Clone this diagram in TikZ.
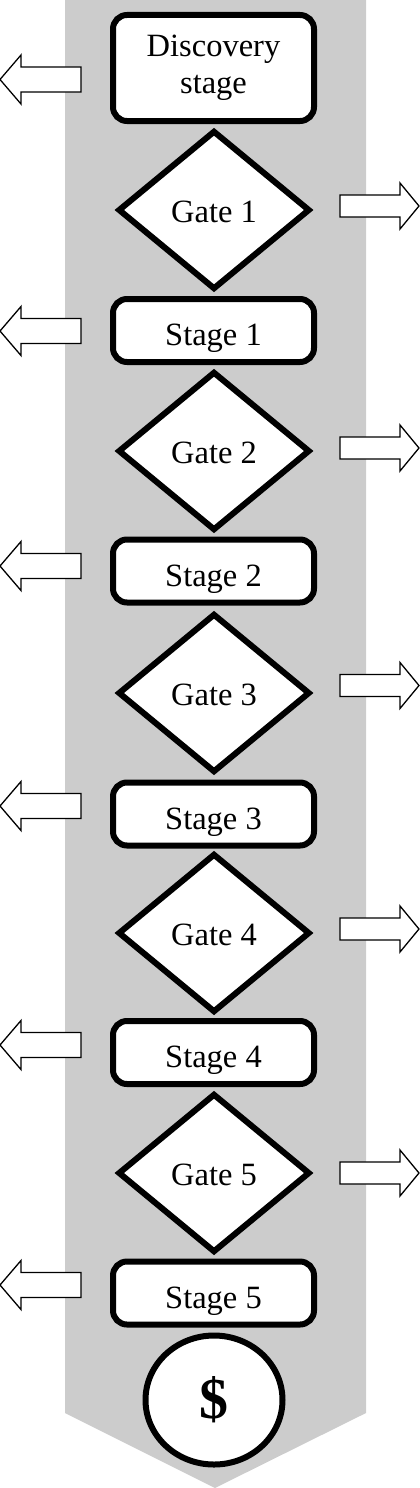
\documentclass[tikz,border=0pt]{standalone}
\usepackage{fontspec}
\setmainfont{Liberation Serif}
\usetikzlibrary{shapes.geometric}
\definecolor{bandgray}{RGB}{204,204,204}
\tikzset{
  x=1pt, y=-1pt,
  every node/.style={font=\fontsize{32.5}{37}\selectfont},
  stagebox/.style={draw, line width=6pt, rounded corners=14pt, fill=white,
    minimum width=201pt, minimum height=63pt, inner sep=0pt,
    text height=30pt, text depth=0pt},
  gatebox/.style={diamond, draw, line width=6pt, fill=white,
    minimum width=192pt, minimum height=159pt, inner sep=0pt,
    text height=24pt, text depth=0pt},
  moneybox/.style={ellipse, draw, line width=6pt, fill=white,
    minimum width=137pt, minimum height=129pt, inner sep=0pt,
    font=\fontsize{58}{62}\selectfont\bfseries},
  arrowline/.style={draw=black, line width=1.3pt, fill=white, line join=miter},
  outleft/.pic={\path[arrowline] (0,0) -- (21,-24.5) -- (21,-12.5) -- (81,-12.5)
     -- (81,12.5) -- (21,12.5) -- (21,24.5) -- cycle;},
  outright/.pic={\path[arrowline] (0,0) -- (-19,-23) -- (-19,-11) -- (-79,-11)
     -- (-79,11) -- (-19,11) -- (-19,23) -- cycle;},
}
\begin{document}
\begin{tikzpicture}
\useasboundingbox (0,0) rectangle (420,1488);
% grey band with chevron end
\fill[bandgray] (65,0) -- (366,0) -- (366,1413) -- (215,1488) -- (65,1413) -- cycle;

% stages and gates
\node[stagebox, minimum height=106pt, text height=, text depth=, align=center] (disc) at (213.5,68) {Discovery\\stage};
\node[gatebox]  (g1) at (214,210)    {Gate 1};
\node[stagebox] (s1) at (213.5,330.5) {Stage 1};
\node[gatebox]  (g2) at (214,451)    {Gate 2};
\node[stagebox] (s2) at (213.5,571)  {Stage 2};
\node[gatebox]  (g3) at (214,693)    {Gate 3};
\node[stagebox] (s3) at (213.5,814)  {Stage 3};
\node[gatebox]  (g4) at (214,933)    {Gate 4};
\node[stagebox] (s4) at (213.5,1052.5) {Stage 4};
\node[gatebox]  (g5) at (214,1173)   {Gate 5};
\node[stagebox] (s5) at (213.5,1293) {Stage 5};
\node[moneybox] (money) at (214,1400) {\$};

% outgoing block arrows (left of stages)
\pic at (0,79.5)  {outleft};
\pic at (0,331)   {outleft};
\pic at (0,566)   {outleft};
\pic at (0,806)   {outleft};
\pic at (0,1045)  {outleft};
\pic at (0,1285)  {outleft};

% outgoing block arrows (right of gates)
\pic at (419,206)    {outright};
\pic at (419,448)    {outright};
\pic at (419,685.5)  {outright};
\pic at (419,929)    {outright};
\pic at (419,1173)   {outright};
\end{tikzpicture}
\end{document}
